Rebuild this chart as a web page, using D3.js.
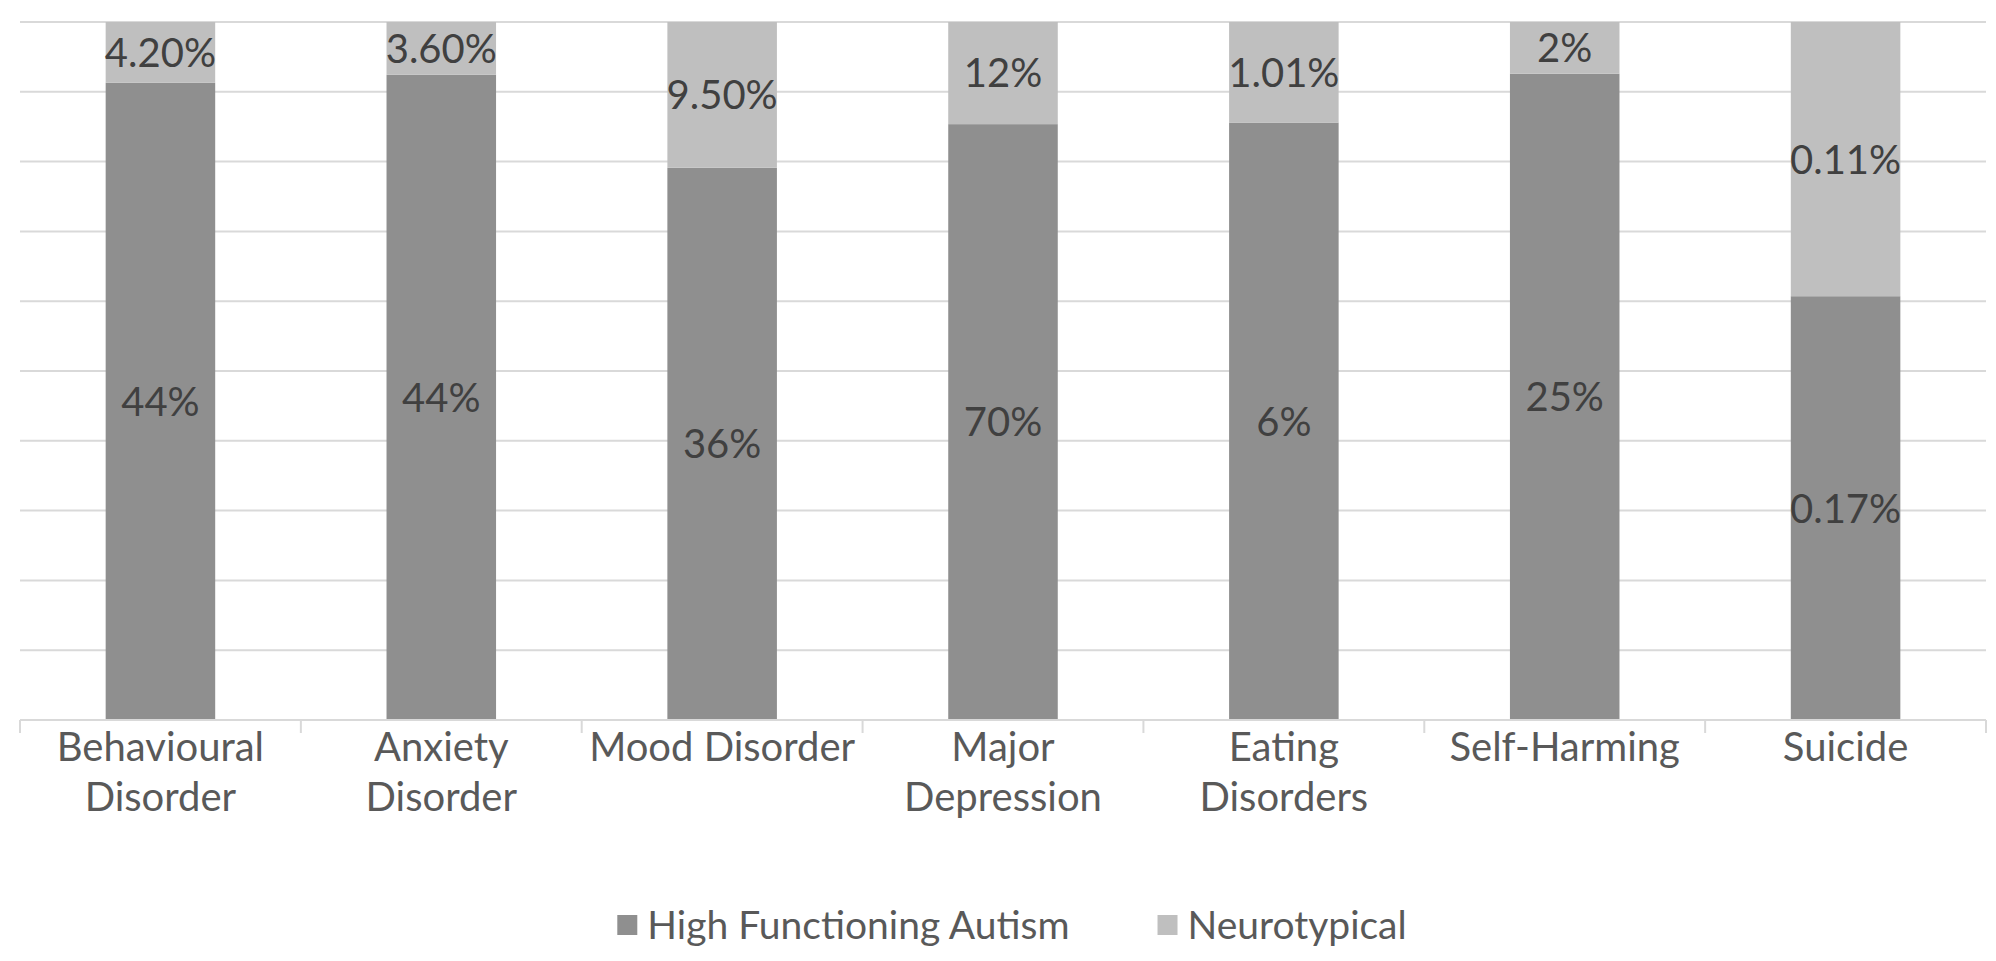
<!DOCTYPE html>
<html>
<head>
<meta charset="utf-8">
<script src="https://cdn.jsdelivr.net/npm/d3@7"></script>
<style>
  html, body { margin: 0; padding: 0; background: #fff; }
  svg text { font-family: Lato, "Open Sans", sans-serif; }
</style>
</head>
<body>
<script>
const WIDTH = 1996, HEIGHT = 961;
const PLOT = {left: 20, right: 1986, top: 22, bottom: 720};

// data
const categories = ["Behavioural Disorder", "Anxiety Disorder", "Mood Disorder", "Major Depression",
    "Eating Disorders", "Self-Harming", "Suicide"];
const tickLines = [["Behavioural", "Disorder"], ["Anxiety", "Disorder"], ["Mood Disorder"],
    ["Major", "Depression"], ["Eating", "Disorders"], ["Self-Harming"], ["Suicide"]];
const hfa = [44, 44, 36, 70, 6, 25, 0.17];
const neurotypical = [4.2, 3.6, 9.5, 12, 1.01, 2, 0.11];
const hfaLabels = ["44%", "44%", "36%", "70%", "6%", "25%", "0.17%"];
const ntLabels = ["4.20%", "3.60%", "9.50%", "12%", "1.01%", "2%", "0.11%"];
const seriesNames = ["High Functioning Autism", "Neurotypical"];
const colors = ["#8f8f8f", "#bfbfbf"];
const gridValues = d3.range(0, 1.0001, 0.1);

const svg = d3.select("body").append("svg")
    .attr("width", WIDTH).attr("height", HEIGHT);

const x = d3.scaleBand().domain(categories)
    .range([PLOT.left, PLOT.right])
    .paddingInner(0.61).paddingOuter(0.305);
const y = d3.scaleLinear().domain([0, 1]).range([PLOT.bottom, PLOT.top]);

// gridlines
svg.append("g").selectAll("line")
    .data(gridValues.slice(1))
    .enter().append("line")
    .attr("x1", PLOT.left).attr("x2", PLOT.right)
    .attr("y1", d => y(d)).attr("y2", d => y(d))
    .style("stroke", "#d9d9d9").style("stroke-width", 2);

// stacked (100%) data
const rows = categories.map((c, i) => {
    let tot = hfa[i] + neurotypical[i];
    return {cat: c, a: hfa[i] / tot, b: neurotypical[i] / tot, la: hfaLabels[i], lb: ntLabels[i]};
});

let bars = svg.append("g");
bars.selectAll("rect.hfa").data(rows).enter().append("rect")
    .attr("class", "hfa")
    .attr("x", d => x(d.cat)).attr("width", x.bandwidth())
    .attr("y", d => y(d.a)).attr("height", d => y(0) - y(d.a))
    .style("fill", colors[0]);
bars.selectAll("rect.nt").data(rows).enter().append("rect")
    .attr("class", "nt")
    .attr("x", d => x(d.cat)).attr("width", x.bandwidth())
    .attr("y", d => y(1)).attr("height", d => y(d.a) - y(1))
    .style("fill", colors[1]);

// value labels
const LBL = 40;
let labels = svg.append("g")
    .attr("text-anchor", "middle")
    .style("font-size", LBL + "px")
    .style("fill", "#404040");
labels.selectAll("text.hfa").data(rows).enter().append("text")
    .attr("x", d => x(d.cat) + x.bandwidth() / 2)
    .attr("y", d => (y(0) + y(d.a)) / 2)
    .attr("dy", "0.36em")
    .text(d => d.la);
labels.selectAll("text.nt").data(rows).enter().append("text")
    .attr("x", d => x(d.cat) + x.bandwidth() / 2)
    .attr("y", d => (y(d.a) + y(1)) / 2)
    .attr("dy", "0.36em")
    .text(d => d.lb);

// x axis
let axis = svg.append("g")
    .attr("transform", `translate(0,${PLOT.bottom})`)
    .call(d3.axisBottom(x).tickSize(0).tickFormat(""));
axis.select(".domain").style("stroke", "#d9d9d9").style("stroke-width", 2)
    .attr("d", `M${PLOT.left},0H${PLOT.right}`);
let step = x.step();
let bounds = categories.map(c => x(c) - step * x.paddingInner() / 2);
bounds.push(PLOT.right);
axis.selectAll("line.bound").data(bounds).enter().append("line")
    .attr("class", "bound")
    .attr("x1", d => d).attr("x2", d => d)
    .attr("y1", 0).attr("y2", 13)
    .style("stroke", "#d9d9d9").style("stroke-width", 2);

const LINE1 = 761, LINE_H = 50;
let tl = svg.append("g")
    .attr("text-anchor", "middle")
    .style("font-size", LBL + "px")
    .style("fill", "#595959");
categories.forEach((c, i) => {
    let t = tl.append("text")
        .attr("x", x(c) + x.bandwidth() / 2)
        .attr("y", LINE1);
    tickLines[i].forEach((s, j) => {
        t.append("tspan")
            .attr("x", x(c) + x.bandwidth() / 2)
            .attr("y", LINE1 + j * LINE_H)
            .text(s);
    });
});

// legend
let legend = svg.append("g").style("font-size", "39px").style("fill", "#595959");
let items = legend.selectAll("g").data(seriesNames).enter().append("g");
items.append("rect").attr("width", 20).attr("height", 20).attr("y", -10)
    .style("fill", (d, i) => colors[i]);
items.append("text").attr("x", 30).attr("dy", "0.36em").text(d => d);
let widths = [];
items.each(function () { widths.push(this.getBBox().width); });
let GAP = 88;
let total = d3.sum(widths) + GAP * (widths.length - 1);
let cx = 1012 - total / 2;
items.attr("transform", (d, i) => {
    let off = cx + d3.sum(widths.slice(0, i)) + GAP * i;
    return `translate(${off},925)`;
});
</script>
</body>
</html>
